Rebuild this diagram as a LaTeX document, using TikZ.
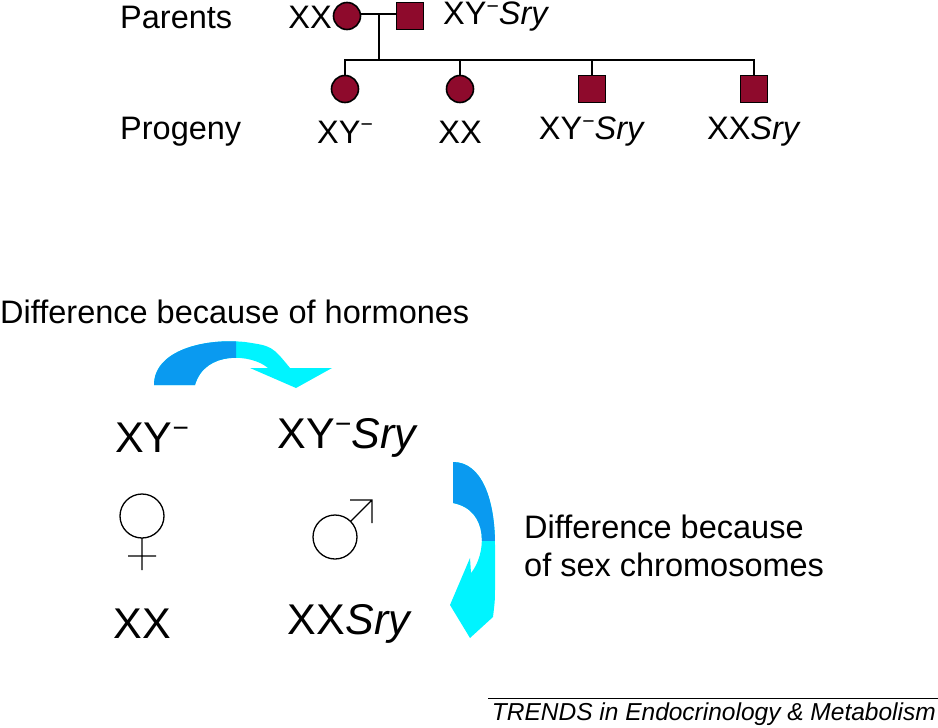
\documentclass[tikz,border=0pt]{standalone}
\usepackage{fontspec}
\setmainfont{Liberation Sans}
\newcommand{\ym}{\raisebox{0.36em}{\scalebox{0.65}{−}}}
\definecolor{pedred}{HTML}{8E0A2C}
\definecolor{arrblue}{HTML}{0A9AF0}
\definecolor{arrcyan}{HTML}{00F4FF}
\begin{document}
\begin{tikzpicture}[x=1pt,y=-1pt,
  txt/.style={inner sep=0pt,font=\fontsize{32.5}{38}\selectfont},
  big/.style={inner sep=0pt,font=\fontsize{43}{48}\selectfont},
  fem/.style={circle,draw=black,line width=1.6pt,fill=pedred,minimum size=27pt,inner sep=0pt},
  mal/.style={rectangle,draw=black,line width=1.6pt,fill=pedred,minimum size=27pt,inner sep=0pt},
  ln/.style={line width=1.6pt}]
\useasboundingbox (0,0) rectangle (938,728);
% pedigree
\node[txt,anchor=west] (par) at (120,17) {Parents};
\node[txt,anchor=east] (pxx) at (332,17) {XX};
\node[fem] (mom) at (347,16) {};
\node[mal] (dad) at (410,16) {};
\node[txt,anchor=west] (pxy) at (443,17) {XY\ym\textit{Sry}};
\coordinate (mid) at (379,14);
\coordinate (junc) at (379,60);
\draw[ln] (mom.east |- mid) -- (dad.west |- mid);
\draw[ln] (mid) -- (junc);
\node[fem] (c1) at (345,89) {};
\node[fem] (c2) at (460,89) {};
\node[mal] (c3) at (592,89) {};
\node[mal] (c4) at (754,89) {};
\draw[ln] (c1.north) -- (c1.north |- junc) -- (c4.north |- junc) -- (c4.north);
\draw[ln] (c2.north) -- (c2.north |- junc);
\draw[ln] (c3.north) -- (c3.north |- junc);
\node[txt,anchor=west] (prog) at (120,132) {Progeny};
\node[txt] (l1) at (345,132) {XY\ym};
\node[txt] (l2) at (460,132) {XX};
\node[txt] (l3) at (592,132) {XY\ym\textit{Sry}};
\node[txt] (l4) at (754,132) {XX\textit{Sry}};
% bottom
\node[txt,anchor=west] (hor) at (0,312) {Difference because of hormones};
\node[big] (a) at (152,438) {XY\ym};
\node[big] (b) at (348,438) {XY\ym\textit{Sry}};
\node[big] (c) at (142,624) {XX};
\node[big] (d) at (350,624) {XX\textit{Sry}};
\node[txt,anchor=west,align=left] (chr) at (524,546) {Difference because\\of sex chromosomes};
% female symbol
\coordinate (fs) at (142,516);
\draw[line width=1.3pt] (fs) circle (22) (142,538) -- (142,570) (128,556) -- (156,556);
% male symbol
\coordinate (ms) at (335,537);
\draw[line width=1.3pt] (ms) circle (22) (351,521) -- (372,500) (350,500) -- (372,500) -- (372,523);
% top arrow
\def\toparrow{(154,385) .. controls (154,350) and (205,338) .. (245,342) .. controls (272,346) .. (290,368) -- (332,368) -- (296,388) -- (250,368) -- (268,368) .. controls (252,354) and (205,350) .. (195,385) -- cycle}
\fill[arrcyan] \toparrow;
\begin{scope}\clip (140,330) rectangle (236,395); \fill[arrblue] \toparrow; \end{scope}
% right arrow
\def\rarrow{(453,462) .. controls (482,462) and (495,500) .. (495,545) -- (495,585) .. controls (495,600) .. (493,617) -- (470,638) -- (450,605) -- (470,558) -- (471,573) .. controls (486,555) and (490,510) .. (453,503) -- cycle}
\fill[arrcyan] \rarrow;
\begin{scope}\clip (440,455) rectangle (500,540); \fill[arrblue] \rarrow; \end{scope}
% footer
\coordinate (fl) at (488,698);
\coordinate (fr) at (938,698);
\draw[line width=1pt] (fl) -- (fr);
\node[inner sep=0pt,anchor=east,font=\fontsize{24.5}{28}\selectfont\itshape] (ft) at (936,714) {TRENDS in Endocrinology \& Metabolism};
\end{tikzpicture}
\end{document}
